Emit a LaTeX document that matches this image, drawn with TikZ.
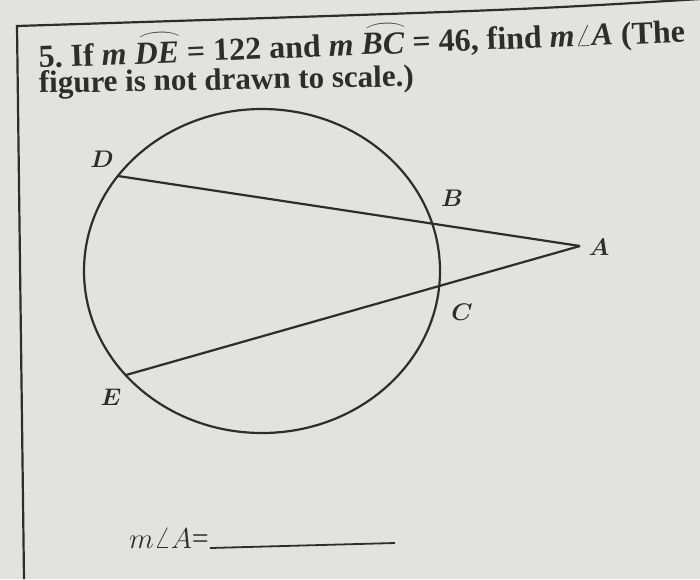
\documentclass[tikz,border=0pt]{standalone}
\usepackage{amsmath}
\usepackage{fontspec}
\setmainfont{Liberation Serif}
\usetikzlibrary{positioning}

\definecolor{paper}{RGB}{226,226,223}
\definecolor{ink}{RGB}{45,45,45}
\newcommand{\arcover}[1]{\setbox0\hbox{\itshape #1\/}\makebox[0pt][l]{\hspace{0.1em}\raisebox{0.74em}{\resizebox*{\wd0}{0.22em}{$\frown$}}}\box0\relax}

\tikzset{
  ptlabel/.style={font=\bfseries\boldmath\fontsize{13}{15}\selectfont, text=ink, inner sep=0pt},
  question/.style={font=\bfseries\boldmath\fontsize{15.5}{18}\selectfont, text=ink, inner sep=0pt, anchor=base west},
}

\begin{document}
\begin{tikzpicture}[x=0.5pt,y=-0.5pt,line width=1.1pt]
		\fill[paper] (0,0) rectangle (700,579);
		\useasboundingbox (0,0) rectangle (700,579);
		% frame of the worksheet box
		\draw[ink] (700,-1) .. controls (520,10) .. (17,26) -- (24,579);
		\node[question, font=\bfseries\fontsize{16}{18}\selectfont, rotate=2.3] (q1) at (38,68) {5.\ If \textit{m} \arcover{DE} = 122 and \textit{m} \arcover{BC} = 46, find \textit{m}$\angle$\textit{A} (The};
		\node[question, rotate=1] (q2) at (38,93) {figure is not drawn to scale.)};
		% circle and the two secants
		\draw[ink] (262,271) ellipse [x radius=178, y radius=162];
		\coordinate (D) at (118,176);
		\coordinate (E) at (126,375);
		\coordinate (A) at (580,246);
		\draw[ink] (D) -- (A);
		\draw[ink] (E) -- (A);
		\node[ptlabel] (lD) at (102,159) {$D$};
		\node[ptlabel] (lB) at (452,198) {$B$};
		\node[ptlabel] (lA) at (599,247) {$A$};
		\node[ptlabel] (lC) at (462,312) {$C$};
		\node[ptlabel] (lE) at (111,397) {$E$};
		% answer blank
		\node[font=\fontsize{15}{18}\selectfont, text=ink, inner sep=0pt, anchor=base west] (ans) at (128,548) {$m\angle A$=};
		\coordinate (blank) at (395,543);
		\draw[ink, line width=0.9pt] (ans.base east) -- (blank);
\end{tikzpicture}
\end{document}
